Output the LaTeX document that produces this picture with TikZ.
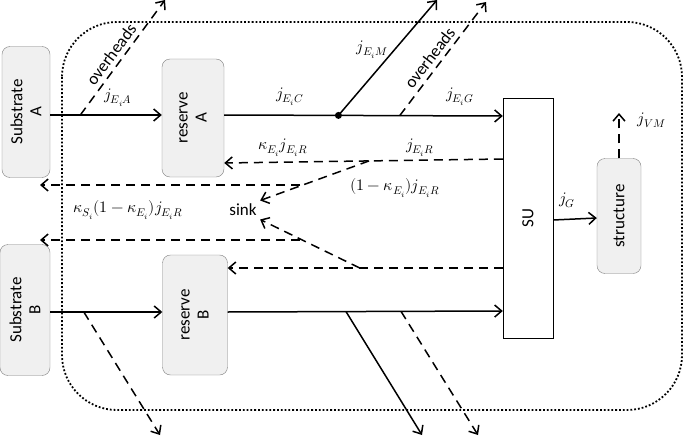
\documentclass[tikz,border=0pt]{standalone}
\usepackage{unicode-math}
\setmainfont{Carlito}
\setmathfont{Latin Modern Math}
\usetikzlibrary{arrows.meta}
\begin{document}
\begin{tikzpicture}[x=1pt,y=-1pt,font=\fontsize{17}{19}\selectfont,
 box/.style={draw=gray,rounded corners=8pt,fill=gray!12,align=center,inner sep=0},
 fl/.style={line width=1.5pt,-{Straight Barb[length=7pt,width=12pt]}},
 dfl/.style={fl,dash pattern=on 9pt off 6pt},
 lab/.style={font=\fontsize{16}{18}\selectfont}]
\useasboundingbox (0,0) rectangle (685,436);
\draw[line width=1.8pt,dotted,rounded corners=55pt] (62,22) rectangle (682,410);
\node[box,minimum width=48pt,minimum height=131pt] (sa) at (26,112) {};
\node[rotate=90,align=center] at (sa) {Substrate\\A};
\node[box,minimum width=62pt,minimum height=118pt] (ra) at (193,118) {};
\node[rotate=90,align=center] at (ra) {reserve\\A};
\node[box,minimum width=50pt,minimum height=131pt] (sb) at (25,310) {};
\node[rotate=90,align=center] at (sb) {Substrate\\B};
\node[box,minimum width=65pt,minimum height=120pt] (rb) at (195,315) {};
\node[rotate=90,align=center] at (rb) {reserve\\B};
\node[draw,fill=white,minimum width=50pt,minimum height=240pt,inner sep=0] (su) at (528,218) {};
\node[rotate=90] at (su) {SU};
\node[box,minimum width=44pt,minimum height=115pt] (st) at (619,216) {};
\node[rotate=90] at (st) {structure};
% substrate A
\draw[fl] (sa.east|-0,115) -- (ra.west|-0,115) coordinate[pos=0.27] (oa);
\node[lab] at (118,98) {$j_{E_iA}$};
\coordinate (oae) at (165,0);
\draw[dfl] (oa) -- (oae) node[pos=0.47,sloped,above,yshift=1pt] {overheads};
% reserve A to SU
\draw[fl] (ra.east|-0,115) -- (su.west|-0,116) coordinate[pos=0.41] (dot) coordinate[pos=0.63] (og);
\fill (dot) circle (3.5pt);
\coordinate (me) at (437,0);
\draw[fl] (dot) -- (me);
\node[lab] at (372,50) {$j_{E_iM}$};
\node[lab] at (290,97) {$j_{E_iC}$};
\node[lab] at (460,97) {$j_{E_iG}$};
\coordinate (oge) at (486,2);
\draw[dfl] (og) -- (oge) node[pos=0.45,sloped,above,yshift=1pt] {overheads};
% reserve flux A
\draw[dfl] (su.west|-0,159) -- (ra.east|-0,163) coordinate[pos=0.48] (spl);
\node[lab] at (283,148) {$\kappa_{E_i}j_{E_iR}$};
\node[lab] at (420,148) {$j_{E_iR}$};
\node (sink) at (243,210) {sink};
\draw[dfl] (spl) -- (sink.north east);
\node[lab] at (395,188) {$(1-\kappa_{E_i})j_{E_iR}$};
\coordinate (la1) at (300,185);
\coordinate (la2) at (40,185);
\draw[dfl] (la1) -- (la2);
\node[lab] at (128,210) {$\kappa_{S_i}(1-\kappa_{E_i})j_{E_iR}$};
% B side
\coordinate (lb1) at (300,240);
\coordinate (lb2) at (40,240);
\draw[dfl] (lb1) -- (lb2);
\draw[dfl] (su.west|-0,268) -- (rb.east|-0,268) coordinate[pos=0.52] (splb);
\draw[dfl] (splb) -- (sink.south east);
\draw[fl] (sb.east|-0,312) -- (rb.west|-0,312) coordinate[pos=0.3] (ob);
\coordinate (obe) at (160,435);
\draw[dfl] (ob) -- (obe);
\draw[fl] (rb.east|-0,312) -- (su.west|-0,311) coordinate[pos=0.43] (mb) coordinate[pos=0.63] (gb);
\coordinate (mbe) at (422,435);
\coordinate (gbe) at (478,435);
\draw[fl] (mb) -- (mbe);
\draw[dfl] (gb) -- (gbe);
% growth
\draw[fl] (su.east|-0,220) -- (st.west|-0,218);
\node[lab] at (567,200) {$j_G$};
\coordinate (vm) at (619,113);
\draw[dfl] (st.north) -- (vm);
\node[lab] at (652,120) {$j_{VM}$};
\end{tikzpicture}
\end{document}
